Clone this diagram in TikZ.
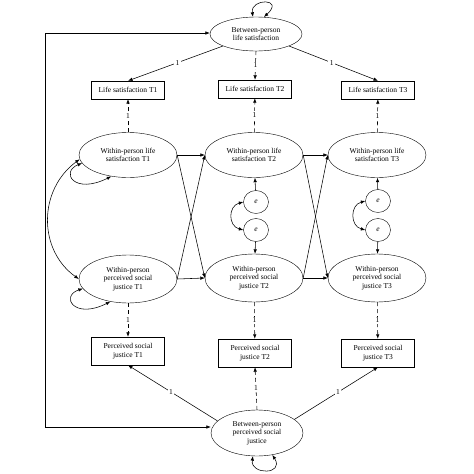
\documentclass[tikz,border=0pt]{standalone}
\usepackage{fontspec}
\setmainfont{Liberation Serif}
\usetikzlibrary{arrows.meta,shapes.geometric}
\begin{document}
\begin{tikzpicture}[x=1pt,y=-1pt,
  every node/.style={font=\fontsize{7.5}{8.6}\selectfont, align=center, inner sep=0pt},
  lat/.style={draw, ellipse, minimum width=98pt, minimum height=45pt},
  latb/.style={draw, ellipse, minimum width=92pt, minimum height=34pt},
  latc/.style={draw, ellipse, minimum width=92pt, minimum height=46pt},
  obs/.style={draw, rectangle, minimum width=73pt, minimum height=18pt},
  obs2/.style={draw, rectangle, minimum width=73pt, minimum height=28pt},
  err/.style={draw, ellipse, minimum width=25pt, minimum height=23pt},
  arr/.style={-{Latex[length=4.5pt,width=3.5pt]}, line width=0.55pt},
  darr/.style={{Latex[length=4.5pt,width=3.5pt]}-{Latex[length=4.5pt,width=3.5pt]}, line width=0.55pt},
  dsh/.style={dash pattern=on 4pt off 3pt},
  one/.style={fill=white, inner sep=1.5pt}
]
\useasboundingbox (0,0) rectangle (474,474);
% between-person nodes
\node[latb] (BL) at (256,34) {Between-person\\life satisfaction};
\node[latc] (BP) at (257,433) {Between-person\\perceived social\\justice};
% observed
\node[obs] (L1) at (128,90) {Life satisfaction T1};
\node[obs] (L2) at (255,89) {Life satisfaction T2};
\node[obs] (L3) at (378,90) {Life satisfaction T3};
\node[obs2] (P1) at (128,351) {Perceived social\\justice T1};
\node[obs2] (P2) at (255,353) {Perceived social\\justice T2};
\node[obs2] (P3) at (378,353) {Perceived social\\justice T3};
% within
\node[lat] (WL1) at (128,155) {Within-person life\\satisfaction T1};
\node[lat] (WL2) at (254,155) {Within-person life\\satisfaction T2};
\node[lat] (WL3) at (377,155) {Within-person life\\satisfaction T3};
\node[lat, minimum height=48pt] (WP1) at (128,279) {Within-person\\perceived social\\justice T1};
\node[lat, minimum height=48pt] (WP2) at (254,278) {Within-person\\perceived social\\justice T2};
\node[lat, minimum height=48pt] (WP3) at (377,278) {Within-person\\perceived social\\justice T3};
% errors
\node[err] (E2a) at (256,202) {\itshape e};
\node[err] (E2b) at (256,230) {\itshape e};
\node[err] (E3a) at (378,201) {\itshape e};
\node[err] (E3b) at (378,230) {\itshape e};
\coordinate (cTL) at (45,33);
\coordinate (cBL) at (45,427);
% frame covariance
\draw[darr] (BL.west |- cTL) -- (cTL) -- (cBL) -- (BP.west |- cBL);
% loops
\draw[darr] (BL.100) .. controls (250,-2) and (285,-2) .. (BL.65);
\draw[darr] (BP.-100) .. controls (250,475) and (285,475) .. (BP.-55);
\draw[darr] (WL1.190) .. controls (60,172) and (74,195) .. (WL1.232);
\draw[darr] (WP1.192) .. controls (60,296) and (74,320) .. (WP1.232);
% within covariance T1
\draw[darr] (WL1.185) .. controls (38,190) and (38,250) .. (WP1.180);
% error covariances
\draw[darr] (E2a.west) .. controls (228,206) and (228,226) .. (E2b.west);
\draw[darr] (E3a.west) .. controls (350,205) and (350,226) .. (E3b.west);
\draw[arr] (E2a) -- (WL2);
\draw[arr] (E2b) -- (WP2);
\draw[arr] (E3a) -- (WL3);
\draw[arr] (E3b) -- (WP3);
% loadings between
\draw[arr] (BL.200) -- node[one,pos=0.48]{1} (L1.north);
\draw[arr,dsh] (BL.south) -- node[one]{1} (L2.north);
\draw[arr] (BL.-20) -- node[one,pos=0.48]{1} (L3.north);
\draw[arr] (BP.163) -- node[one,pos=0.52]{1} (P1.south);
\draw[arr,dsh] (BP.north) -- node[one]{1} (P2.south);
\draw[arr] (BP.20) -- node[one,pos=0.52]{1} (P3.south);
% loadings within
\draw[arr,dsh] (WL1) -- node[one]{1} (L1);
\draw[arr,dsh] (WL2) -- node[one]{1} (L2);
\draw[arr,dsh] (WL3) -- node[one]{1} (L3);
\draw[arr,dsh] (WP1) -- node[one]{1} (P1);
\draw[arr,dsh] (WP2) -- node[one]{1} (P2);
\draw[arr,dsh] (WP3) -- node[one]{1} (P3);
% cross-lagged
\draw[arr] (WL1.east) -- (WL2.west);
\draw[arr] (WP1.east) -- (WP2.west);
\draw[arr] (WL1.east) -- (WP2.west);
\draw[arr] (WP1.east) -- (WL2.west);
\draw[arr] (WL2.east) -- (WL3.west);
\draw[arr] (WP2.east) -- (WP3.west);
\draw[arr] (WL2.east) -- (WP3.west);
\draw[arr] (WP2.east) -- (WL3.west);
\end{tikzpicture}
\end{document}
